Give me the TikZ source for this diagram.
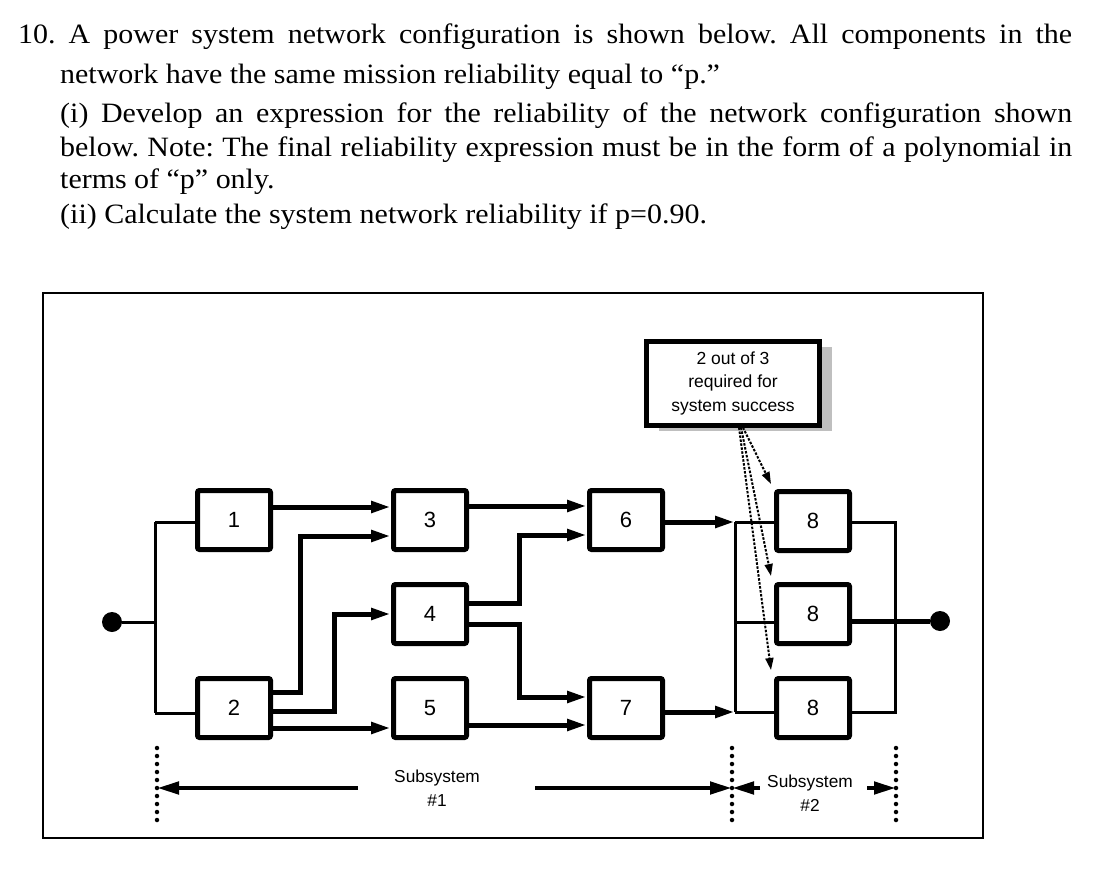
\documentclass[tikz,border=0pt]{standalone}
\usepackage{fontspec}
\usepackage{tikz}
\usetikzlibrary{arrows.meta,shadows}
\newfontfamily\qfont[FakeStretch=1.07]{Liberation Serif}
\newfontfamily\dfont{Liberation Sans}
\frenchspacing

\begin{document}
\begin{tikzpicture}[x=1pt, y=-1pt,
	LineStyle/.style = {anchor=base west, inner sep=0, font=\qfont\fontsize{28}{30}\selectfont},
	BlockStyle/.style = {shape=rectangle, rounded corners=2pt, draw, line width=5pt, minimum width=73pt, minimum height=59pt, inner sep=0, font=\dfont\fontsize{22}{24}\selectfont},
	NoteStyle/.style = {shape=rectangle, draw, line width=5pt, fill=white, minimum width=173pt, minimum height=84pt, align=center, font=\dfont\fontsize{17.5}{23.5}\selectfont, drop shadow={shadow xshift=12pt, shadow yshift=-6pt, fill=black!25, opacity=1}},
	FeedStyle/.style = {line width=5pt, -{Triangle[length=20pt,width=11pt]}},
	WireStyle/.style = {line width=3pt},
	VoteStyle/.style = {line width=2pt, dash pattern=on 2.5pt off 1.5pt, -{Triangle[length=12pt,width=8pt]}},
	DotStyle/.style = {shape=circle, fill, minimum size=20pt, inner sep=0},
	SpanStyle/.style = {line width=4.5pt, -{Triangle[length=22pt,width=12pt]}},
	MarkStyle/.style = {line width=4.5pt, line cap=round, dash pattern=on 0pt off 8pt},
	LabelStyle/.style = {align=center, inner sep=0, font=\dfont\fontsize{17.3}{24}\selectfont}]
	\useasboundingbox (0,0) rectangle (1093,878);

	% question text
	\node[LineStyle] (q1) at (18,43) {\makebox[1054pt][s]{10. A power system network configuration is shown below. All components in the}};
	\node[LineStyle] (q2) at (60,83) {network have the same mission reliability equal to “p.”};
	\node[LineStyle] (q3) at (60,122) {\makebox[1012pt][s]{(i) Develop an expression for the reliability of the network configuration shown}};
	\node[LineStyle] (q4) at (60,156) {\makebox[1012pt][s]{below. Note: The final reliability expression must be in the form of a polynomial in}};
	\node[LineStyle] (q5) at (60,188) {terms of “p” only.};
	\node[LineStyle] (q6) at (60,223) {(ii) Calculate the system network reliability if p=0.90.};

	\draw[line width=2pt] (43,293) rectangle (983,838);

	% blocks
	\node[BlockStyle] (b1) at (234,520) {1};
	\node[BlockStyle] (b2) at (234,708) {2};
	\node[BlockStyle] (b3) at (430,520) {3};
	\node[BlockStyle] (b4) at (430,614) {4};
	\node[BlockStyle] (b5) at (430,708) {5};
	\node[BlockStyle] (b6) at (626,520) {6};
	\node[BlockStyle] (b7) at (626,708) {7};
	\node[BlockStyle] (b8a) at (813,521) {8};
	\node[BlockStyle] (b8b) at (813,614) {8};
	\node[BlockStyle] (b8c) at (813,708) {8};
	\node[NoteStyle] (note) at (733,383) {2 out of 3\\required for\\system success};

	\node[DotStyle] (dotL) at (112,622) {};
	\node[DotStyle] (dotR) at (940,621) {};
	\coordinate (inT) at (155,522);
	\coordinate (inM) at (155,622);
	\coordinate (inB) at (155,713);
	\coordinate (busT) at (735,522);
	\coordinate (busM) at (735,622);
	\coordinate (busB) at (735,712);
	\coordinate (outT) at (895,522);
	\coordinate (outB) at (895,712);

	% input side
	\draw[WireStyle] (dotL) -- (inM);
	\draw[WireStyle] (inT) -- (inB);
	\draw[WireStyle] (inT) -- (inT -| b1.west);
	\draw[WireStyle] (inB) -- (inB -| b2.west);

	% subsystem 1
	\draw[FeedStyle] ([yshift=13pt]b1.east) -- ([yshift=13pt]b3.west);
	\draw[FeedStyle] ([yshift=16pt]b2.east) -- ++(27,0) |- ([yshift=-16pt]b3.west);
	\draw[FeedStyle] ([yshift=-3pt]b2.east) -- ++(61,0) |- (b4.west);
	\draw[FeedStyle] ([yshift=-20pt]b2.east) -- ([yshift=-20pt]b5.west);
	\draw[FeedStyle] ([yshift=14pt]b3.east) -- ([yshift=14pt]b6.west);
	\draw[FeedStyle] ([yshift=11pt]b4.east) -- ++(50,0) |- ([yshift=-15pt]b6.west);
	\draw[FeedStyle] ([yshift=-10pt]b4.east) -- ++(50,0) |- ([yshift=11pt]b7.west);
	\draw[FeedStyle] ([yshift=-17pt]b5.east) -- ([yshift=-17pt]b7.west);
	\draw[FeedStyle] (b6.east |- busT) -- (busT);
	\draw[FeedStyle] (b7.east |- busB) -- (busB);

	% subsystem 2
	\draw[WireStyle] (busT) -- (busB);
	\draw[WireStyle] (busT) -- (busT -| b8a.west);
	\draw[WireStyle] (busM) -- (busM -| b8b.west);
	\draw[WireStyle] (busB) -- (busB -| b8c.west);
	\draw[WireStyle] (b8a.east |- outT) -- (outT) -- (outB) -- (b8c.east |- outB);
	\draw[line width=5pt] (b8b.east |- dotR) -- (dotR);

	\draw[VoteStyle] ([xshift=10pt]note.south) -- ([shift={(-3pt,5pt)}]b8a.north west);
	\draw[VoteStyle] ([xshift=8pt]note.south) -- ([shift={(-3pt,6pt)}]b8b.north west);
	\draw[VoteStyle] ([xshift=6pt]note.south) -- ([shift={(-3pt,6pt)}]b8c.north west);

	% subsystem spans
	\node[LabelStyle] (sub1) at (437,788) {Subsystem\\\#1};
	\node[LabelStyle] (sub2) at (810,793) {Subsystem\\\#2};
	\coordinate (m1) at (157,788);
	\coordinate (m2) at (732,788);
	\coordinate (m3) at (896,788);
	\coordinate (s1a) at (358,788);
	\coordinate (s1b) at (535,788);
	\coordinate (s2a) at (760,788);
	\coordinate (s2b) at (867,788);
	\draw[MarkStyle] (157,748) -- (157,820);
	\draw[MarkStyle] (732,748) -- (732,820);
	\draw[MarkStyle] (896,748) -- (896,820);
	\draw[SpanStyle] (s1a) -- (m1);
	\draw[SpanStyle] (s1b) -- (m2);
	\draw[SpanStyle] (s2a) -- (m2);
	\draw[SpanStyle] (s2b) -- (m3);
\end{tikzpicture}
\end{document}
